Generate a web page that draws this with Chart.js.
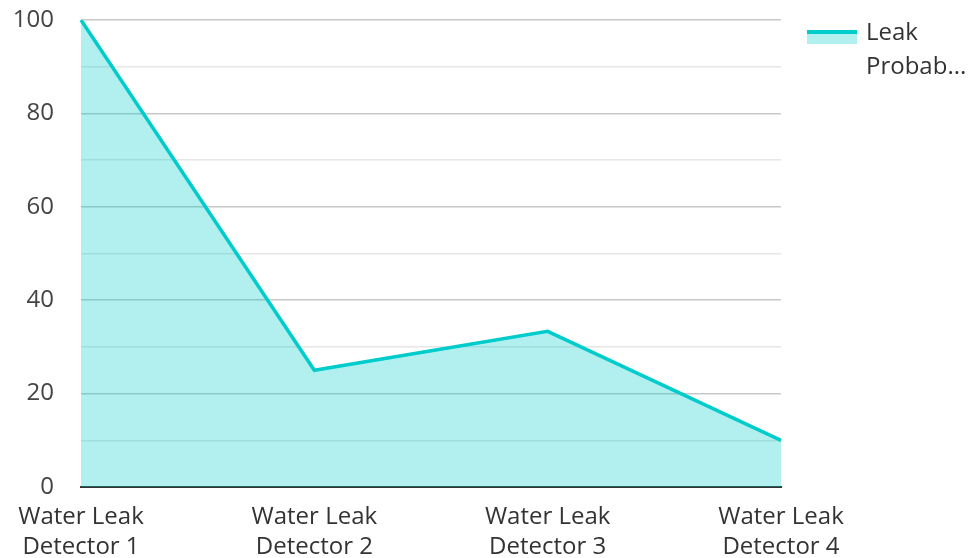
<!DOCTYPE html>
<html>
<head>
<meta charset="utf-8">
<script src="https://cdn.jsdelivr.net/npm/chart.js@4"></script>
<style>
  html, body { margin: 0; padding: 0; background: #fff; }
  #wrap { position: relative; width: 971px; height: 558px; }
</style>
</head>
<body>
<div id="wrap"><canvas id="c" width="971" height="558"></canvas></div>
<script>
const categories = [["Water Leak", "Detector 1"], ["Water Leak", "Detector 2"], ["Water Leak", "Detector 3"], ["Water Leak", "Detector 4"]];
const seriesName = "Leak Probability";
const leakProbability = [100, 25, 33.33, 10];
const yTickLabels = [0, 20, 40, 60, 80, 100];

const LINE = "rgb(0,204,204)";
const FILL = "rgba(0,204,204,0.3)";
const FONT = "'Open Sans', 'Noto Sans', sans-serif";

const legendPlugin = {
  id: "wrapLegend",
  afterDraw(chart) {
    const ctx = chart.ctx;
    const ds = chart.data.datasets[0];
    const x = 807, y = 30, w = 50, h = 14;
    ctx.save();
    ctx.fillStyle = ds.backgroundColor;
    ctx.fillRect(x, y, w, h);
    ctx.fillStyle = ds.borderColor;
    ctx.fillRect(x, y, w, 4);
    ctx.fillStyle = "#333";
    ctx.font = "24px " + FONT;
    ctx.textBaseline = "middle";
    ctx.textAlign = "left";
    ctx.fillText("Leak", 866, 33);
    ctx.fillText("Probab...", 866, 67);
    ctx.restore();
  }
};

new Chart(document.getElementById("c"), {
  type: "line",
  data: {
    labels: categories,
    datasets: [{
      label: seriesName,
      data: leakProbability,
      borderColor: LINE,
      backgroundColor: FILL,
      borderWidth: 3.5,
      fill: "origin",
      tension: 0,
      pointRadius: 0,
      pointHoverRadius: 0
    }]
  },
  options: {
    responsive: false,
    animation: false,
    layout: { padding: { top: 20, right: 190, bottom: 0, left: 13 } },
    plugins: { legend: { display: false }, tooltip: { enabled: false } },
    scales: {
      x: {
        offset: false,
        afterFit: (s) => { s.paddingLeft = 0; s.paddingRight = 0; s.height = 71; },
        grid: { display: false, drawTicks: false },
        border: { display: true, color: "#333", width: 2 },
        ticks: { color: "#333", font: { family: FONT, size: 24, lineHeight: 1.25 }, padding: 15, maxRotation: 0, autoSkip: false }
      },
      y: {
        min: 0, max: 100,
        afterFit: (s) => { s.paddingTop = 0; s.paddingBottom = 0; s.width = 68; },
        grid: {
          drawTicks: false,
          color: (c) => (c.tick && c.tick.value % 20 === 0) ? "#c8c8c8" : "#e6e6e6",
          lineWidth: 1.5
        },
        border: { display: false },
        ticks: {
          stepSize: 10,
          color: "#444",
          font: { family: FONT, size: 24 },
          padding: 27,
          callback: (v) => yTickLabels.includes(v) ? String(v) : ""
        }
      }
    }
  },
  plugins: [legendPlugin]
});
</script>
</body>
</html>
